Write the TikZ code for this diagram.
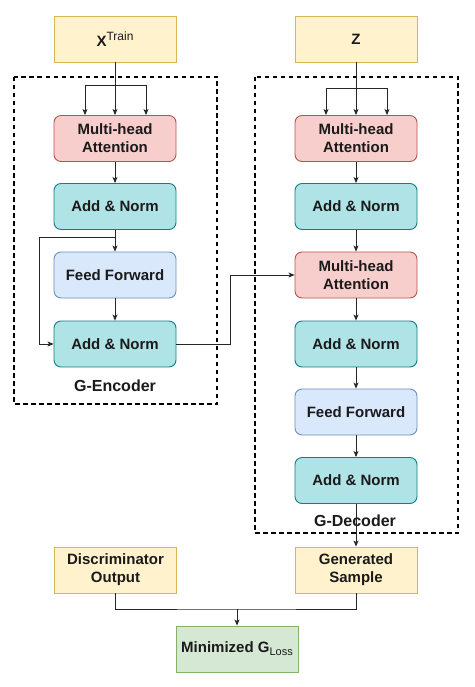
\documentclass[tikz,border=0pt]{standalone}
\usepackage{fontspec}
\setmainfont{Liberation Sans}
\usetikzlibrary{arrows.meta,calc}
\definecolor{yfill}{HTML}{FFF2CC}\definecolor{ydraw}{HTML}{D6B656}
\definecolor{pfill}{HTML}{F8CECC}\definecolor{pdraw}{HTML}{B85450}
\definecolor{tfill}{HTML}{B0E3E6}\definecolor{tdraw}{HTML}{0E8088}
\definecolor{bfill}{HTML}{DAE8FC}\definecolor{bdraw}{HTML}{6C8EBF}
\definecolor{gfill}{HTML}{D5E8D4}\definecolor{gdraw}{HTML}{82B366}
\definecolor{txt}{HTML}{1A1A1A}
\tikzset{
  box/.style={minimum width=122pt,minimum height=46pt,inner sep=0pt,line width=0.9pt,align=center,text=txt,
    font=\fontsize{15}{18}\selectfont\bfseries},
  iobox/.style={box,fill=yfill,draw=ydraw},
  mhabox/.style={box,rounded corners=7pt,fill=pfill,draw=pdraw},
  anbox/.style={box,rounded corners=7pt,fill=tfill,draw=tdraw},
  ffbox/.style={box,rounded corners=7pt,fill=bfill,draw=bdraw},
  lossbox/.style={box,fill=gfill,draw=gdraw},
  arr/.style={draw=black!85,line width=0.9pt,-{Stealth[length=6pt,width=5pt,inset=1.5pt]}},
  ln/.style={draw=black!85,line width=0.9pt},
  dbox/.style={draw=black,line width=1.6pt,dash pattern=on 4.5pt off 3.5pt},
  lbl/.style={text=txt,font=\fontsize{16}{18}\selectfont\bfseries,inner sep=0pt}
}
\begin{document}
\begin{tikzpicture}[x=1pt,y=-1pt]
\useasboundingbox (0,0) rectangle (474,687);
% dashed groups
\draw[dbox] (14,77) rectangle (217,404);
\draw[dbox] (255,77) rectangle (458,533);
% encoder
\node[iobox] (xtrain) at (115,39) {X\raisebox{6pt}{\fontsize{12}{12}\selectfont\mdseries Train}};
\node[mhabox] (emha) at (115,138.5) {Multi-head\\Attention};
\node[anbox] (ean1) at (115,206.5) {Add \& Norm};
\node[ffbox] (eff) at (115,275) {Feed Forward};
\node[anbox] (ean2) at (115,344) {Add \& Norm};
\node[lbl] (elbl) at (115,386) {G-Encoder};
% decoder
\node[iobox] (z) at (356,39) {Z};
\node[mhabox] (dmha1) at (356,138.5) {Multi-head\\Attention};
\node[anbox] (dan1) at (356,206.5) {Add \& Norm};
\node[mhabox] (dmha2) at (356,275) {Multi-head\\Attention};
\node[anbox] (dan2) at (356,344) {Add \& Norm};
\node[ffbox] (dff) at (356,412) {Feed Forward};
\node[anbox] (dan3) at (356,480.5) {Add \& Norm};
\node[lbl] (dlbl) at (355,521) {G-Decoder};
% bottom
\node[iobox] (disc) at (115.5,570) {Discriminator\\Output};
\node[iobox] (gen) at (356,570) {Generated\\Sample};
\node[lossbox] (loss) at (237,649) {Minimized G\raisebox{-3pt}{\fontsize{11}{11}\selectfont\mdseries Loss}};
% coordinates
\coordinate (es) at (115,85);
\coordinate (ds) at (356,88);
\coordinate (esk) at (115,237);
\coordinate (jn) at (237,609);
% encoder edges
\draw[arr] (xtrain.south) -- (emha.north);
\draw[arr] (es) -| ([xshift=-30pt]emha.north);
\draw[arr] (es) -| ([xshift=31pt]emha.north);
\draw[arr] (emha) -- (ean1);
\draw[arr] (ean1) -- (eff);
\draw[arr] (esk) -- ++(-76,0) |- (ean2.west);
\draw[arr] (eff) -- (ean2);
\draw[arr] (ean2.east) -- ++(54,0) |- (dmha2.west);
% decoder edges
\draw[arr] (z.south) -- (dmha1.north);
\draw[arr] (ds) -| ([xshift=-30pt]dmha1.north);
\draw[arr] (ds) -| ([xshift=31pt]dmha1.north);
\draw[arr] (dmha1) -- (dan1);
\draw[arr] (dan1) -- (dmha2);
\draw[arr] (dmha2) -- (dan2);
\draw[arr] (dan2) -- (dff);
\draw[arr] (dff) -- (dan3);
\draw[arr] (dan3) -- (gen);
% loss
\draw[ln] (disc.south) |- (jn) -| (gen.south);
\draw[arr] (jn) -- (loss.north);
\end{tikzpicture}
\end{document}
